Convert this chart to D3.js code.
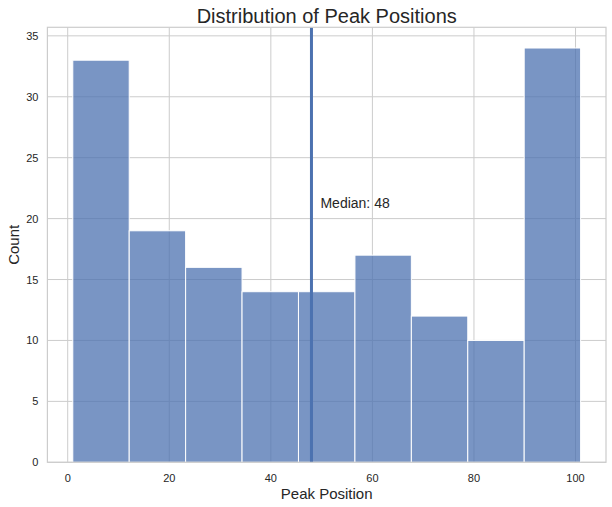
<!DOCTYPE html>
<html><head><meta charset="utf-8">
<script src="https://cdn.jsdelivr.net/npm/d3@7"></script>
<style>body{margin:0;background:#fff}svg{display:block}text{font-family:"Liberation Sans",Arial,sans-serif;fill:#262626}</style>
</head><body>
<svg id="c" width="612" height="507"></svg>
<script>
const binEdges = [1, 12.11, 23.22, 34.33, 45.44, 56.56, 67.67, 78.78, 89.89, 101];
const counts = [33, 19, 16, 14, 14, 17, 12, 10, 34];
const xTicks = [0, 20, 40, 60, 80, 100];
const yTicks = [0, 5, 10, 15, 20, 25, 30, 35];
const medianValue = 48;

const svg = d3.select("#c");
const L = 47.4, R = 606, T = 27.3, B = 462.3;
const x = d3.scaleLinear().domain([-4, 106]).range([L, R]);
const y = d3.scaleLinear().domain([0, 35.7]).range([B, T]);

const g = svg.append("g");
// gridlines
g.selectAll(".gx").data(xTicks).join("line")
  .attr("x1", d => x(d)).attr("x2", d => x(d)).attr("y1", T).attr("y2", B)
  .attr("stroke", "#cccccc").attr("stroke-width", 1);
g.selectAll(".gy").data(yTicks).join("line")
  .attr("y1", d => y(d)).attr("y2", d => y(d)).attr("x1", L).attr("x2", R)
  .attr("stroke", "#cccccc").attr("stroke-width", 1);

// bars
const bins = counts.map((c, i) => ({x0: binEdges[i], x1: binEdges[i + 1], c}));
g.selectAll(".bar").data(bins).join("rect")
  .attr("x", d => x(d.x0)).attr("width", d => x(d.x1) - x(d.x0))
  .attr("y", d => y(d.c)).attr("height", d => y(0) - y(d.c))
  .attr("fill", "#4c72b0").attr("fill-opacity", 0.75)
  .attr("stroke", "#ffffff").attr("stroke-width", 1);

// median line
g.append("line").attr("x1", x(medianValue)).attr("x2", x(medianValue))
  .attr("y1", T).attr("y2", B).attr("stroke", "#4c72b0").attr("stroke-width", 3);
g.append("text").attr("x", x(medianValue) + 9).attr("y", y(21) + 1.2)
  .attr("font-size", 14).text("Median: " + medianValue);

// frame
svg.append("rect").attr("x", L).attr("y", T).attr("width", R - L).attr("height", B - T)
  .attr("fill", "none").attr("stroke", "#cccccc").attr("stroke-width", 1.2);

// tick labels
svg.selectAll(".xt").data(xTicks).join("text")
  .attr("x", d => x(d)).attr("y", B + 20).attr("text-anchor", "middle")
  .attr("font-size", 11).text(d => d);
svg.selectAll(".yt").data(yTicks).join("text")
  .attr("x", L - 9).attr("y", d => y(d) + 4).attr("text-anchor", "end")
  .attr("font-size", 11).text(d => d);

// labels
svg.append("text").attr("x", (L + R) / 2).attr("y", B + 37).attr("text-anchor", "middle")
  .attr("font-size", 15).text("Peak Position");
svg.append("text").attr("transform", `translate(19,${(T + B) / 2}) rotate(-90)`)
  .attr("text-anchor", "middle").attr("font-size", 15).text("Count");
svg.append("text").attr("x", (L + R) / 2).attr("y", 23).attr("text-anchor", "middle")
  .attr("font-size", 20).text("Distribution of Peak Positions");
</script>
</body></html>
